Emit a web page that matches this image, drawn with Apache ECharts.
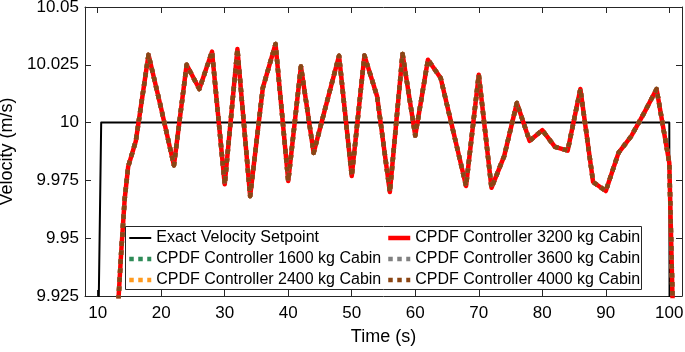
<!DOCTYPE html>
<html>
<head>
<meta charset="utf-8">
<script src="https://cdn.jsdelivr.net/npm/echarts@6/dist/echarts.min.js"></script>
<style>
html,body{margin:0;padding:0;background:#fff;}
#chart{width:685px;height:352px;}
</style>
</head>
<body>
<div id="chart"></div>
<script>
// ---- data ----
const setpointTime = [10.05, 10.55, 100, 100.05];
const setpointVel  = [9.9, 10, 10, 9.9];

const ctrlTime = [13.0, 13.3, 13.7, 14.25, 14.8, 16, 18, 20, 22, 24, 26, 28, 30, 32, 34, 36, 38, 40,
  42, 44, 46, 48, 50, 52, 54, 56, 58, 60, 62, 64, 66, 68, 70, 72, 74, 76, 78, 80,
  82, 84, 86, 88, 90, 92, 94, 96, 98, 100, 100.5, 100.8];
const ctrlVel = [9.90, 9.925, 9.944, 9.967, 9.981, 9.992, 10.0293, 10.006, 9.9815, 10.025, 10.0145, 10.0307, 9.9733, 10.0318, 9.9682, 10.015, 10.034, 9.9747,
  10.0243, 9.9869, 10.008, 10.0289, 9.9769, 10.029, 10.0113, 9.970, 10.0297, 9.9944, 10.0272, 10.0193, 9.996, 9.9726, 10.0207, 9.9718, 9.9855, 10.0085, 9.9921, 9.9967,
  9.9895, 9.9879, 10.0145, 9.9743, 9.9704, 9.9869, 9.9941, 10.004, 10.0145, 9.9826, 9.925, 9.90];

const seriesNames = [
  'Exact Velocity Setpoint',
  'CPDF Controller 1600 kg Cabin',
  'CPDF Controller 2400 kg Cabin',
  'CPDF Controller 3200 kg Cabin',
  'CPDF Controller 3600 kg Cabin',
  'CPDF Controller 4000 kg Cabin'
];
const xTicks = [10, 20, 30, 40, 50, 60, 70, 80, 90, 100];
const yTicks = [9.925, 9.95, 9.975, 10, 10.025, 10.05];
const yTickLabels = ['9.925', '9.95', '9.975', '10', '10.025', '10.05'];

// ---- chart ----
const FONT = "'Liberation Sans', Arial, Helvetica, sans-serif";
const AX = '#262626';
const DASH = [4.5, 4.5];
const pairs = (xs, ys) => xs.map((x, i) => [x, ys[i]]);
const ctrlData = pairs(ctrlTime, ctrlVel);

const styles = [
  {color: '#000000', width: 2, dotted: false},
  {color: '#2e8b57', width: 4.5, dotted: true},
  {color: '#ff9a1f', width: 4.5, dotted: true},
  {color: '#ff0000', width: 4.5, dotted: false},
  {color: '#808080', width: 4.5, dotted: true},
  {color: '#8b4513', width: 4.5, dotted: true}
];

const chart = echarts.init(document.getElementById('chart'), null, {renderer: 'canvas'});

function lineStyleOf(i) {
  const s = styles[i];
  return {color: s.color, width: s.width, type: s.dotted ? DASH : 'solid', cap: 'butt', join: 'round'};
}

const series = seriesNames.map((name, i) => ({
  name: name, type: 'line', symbol: 'none', clip: true,
  data: i === 0 ? pairs(setpointTime, setpointVel) : ctrlData,
  lineStyle: lineStyleOf(i),
  itemStyle: {color: styles[i].color}
}));

const legendData = seriesNames.map((name, i) => ({
  name: name,
  lineStyle: Object.assign({}, lineStyleOf(i), {join: 'miter'}),
  itemStyle: {opacity: 0, borderWidth: 0}
}));

const yFmt = v => {
  const i = yTicks.findIndex(t => Math.abs(t - v) < 1e-9);
  return i >= 0 ? yTickLabels[i] : '';
};

const baseX = {
  type: 'value', min: 8, max: 102,
  axisLine: {show: true, lineStyle: {color: AX, width: 1}},
  axisTick: {show: true, inside: true, length: 6, customValues: xTicks, lineStyle: {color: AX}},
  splitLine: {show: false}
};
const baseY = {
  type: 'value', min: 9.925, max: 10.05,
  axisLine: {show: true, lineStyle: {color: AX, width: 1}},
  axisTick: {show: true, inside: true, length: 6, customValues: yTicks, lineStyle: {color: AX}},
  splitLine: {show: false}
};

const legendCommon = {
  orient: 'vertical', padding: 0, itemGap: 5, itemWidth: 22, itemHeight: 14,
  selectedMode: false,
  itemStyle: {opacity: 0, borderWidth: 0},
  textStyle: {fontFamily: FONT, fontSize: 16, color: '#000', lineHeight: 16},
  z: 10
};

chart.setOption({
  animation: false,
  backgroundColor: '#fff',
  grid: {left: 85, right: 3, top: 7, bottom: 56, containLabel: false, outerBoundsMode: 'none'},
  xAxis: [
    Object.assign({}, baseX, {
      position: 'bottom',
      axisLabel: {show: true, customValues: xTicks, margin: 9, color: '#000', fontFamily: FONT, fontSize: 17},
      name: 'Time (s)', nameLocation: 'middle', nameGap: 32,
      nameTextStyle: {color: '#000', fontFamily: FONT, fontSize: 18}
    }),
    Object.assign({}, baseX, {position: 'top', axisLabel: {show: false}})
  ],
  yAxis: [
    Object.assign({}, baseY, {
      position: 'left',
      axisLabel: {show: true, customValues: yTicks, formatter: yFmt, margin: 6, color: '#000', fontFamily: FONT, fontSize: 17},
      name: 'Velocity (m/s)', nameLocation: 'middle', nameGap: 66,
      nameTextStyle: {color: '#000', fontFamily: FONT, fontSize: 18}
    }),
    Object.assign({}, baseY, {position: 'right', axisLabel: {show: false}})
  ],
  legend: [
    Object.assign({}, legendCommon, {left: 127, top: 230, data: legendData.slice(0, 3)}),
    Object.assign({}, legendCommon, {left: 386, top: 230, data: legendData.slice(3, 6)})
  ],
  graphic: [{
    type: 'rect', z: 5,
    shape: {x: 125.5, y: 226.5, width: 516, height: 63},
    style: {fill: '#fff', stroke: AX, lineWidth: 1}
  }],
  series: series
});
</script>
</body>
</html>
